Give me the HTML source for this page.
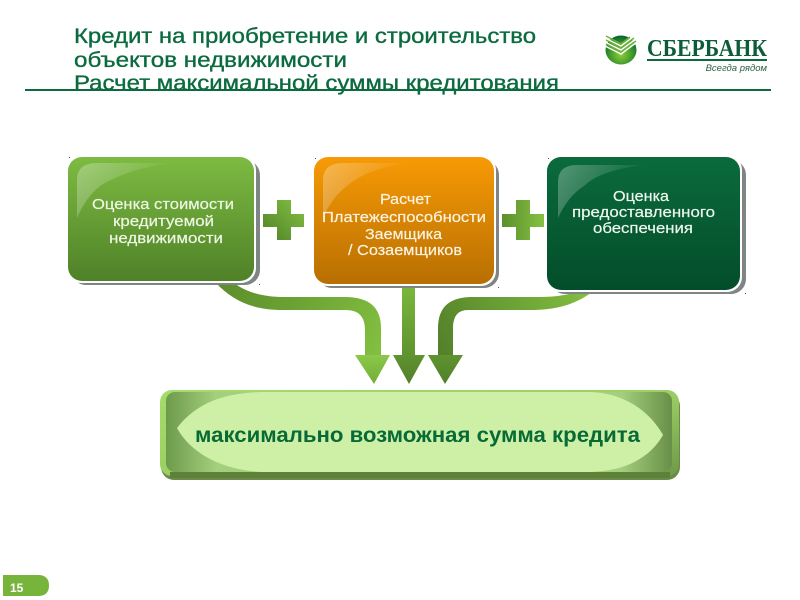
<!DOCTYPE html>
<html><head><meta charset="utf-8"><style>
html,body{margin:0;padding:0;background:#fff}
svg{display:block}
text{font-family:"Liberation Sans",sans-serif}
</style></head><body>
<svg width="800" height="600" viewBox="0 0 800 600" xmlns="http://www.w3.org/2000/svg">
<defs>
<linearGradient id="g1" x1="0" y1="0" x2="0" y2="1"><stop offset="0" stop-color="#7dbb42"/><stop offset="1" stop-color="#4f8128"/></linearGradient>
<linearGradient id="g2" x1="0" y1="0" x2="0" y2="1"><stop offset="0" stop-color="#f79a05"/><stop offset="1" stop-color="#b86f02"/></linearGradient>
<linearGradient id="g3" x1="0" y1="0" x2="0" y2="1"><stop offset="0" stop-color="#0b6b3c"/><stop offset="1" stop-color="#034d2a"/></linearGradient>
<linearGradient id="gl" x1="0" y1="0" x2="1" y2="0.3"><stop offset="0" stop-color="#fff" stop-opacity=".3"/><stop offset="1" stop-color="#fff" stop-opacity="0"/></linearGradient>
<linearGradient id="pl" x1="0" y1="1" x2="1" y2="0"><stop offset="0" stop-color="#4f8128"/><stop offset="1" stop-color="#85c143"/></linearGradient>
<linearGradient id="pl2" x1="0" y1="0" x2="1" y2="0"><stop offset="0" stop-color="#5c8f2c"/><stop offset="1" stop-color="#85c143"/></linearGradient>
<linearGradient id="a1" gradientUnits="userSpaceOnUse" x1="220" y1="290" x2="375" y2="360"><stop offset="0" stop-color="#5c8f2c"/><stop offset=".5" stop-color="#6ea535"/><stop offset="1" stop-color="#82bf40"/></linearGradient>
<linearGradient id="a2" gradientUnits="userSpaceOnUse" x1="0" y1="286" x2="0" y2="384"><stop offset="0" stop-color="#7ab83c"/><stop offset="1" stop-color="#54832a"/></linearGradient>
<linearGradient id="a3" gradientUnits="userSpaceOnUse" x1="590" y1="295" x2="445" y2="370"><stop offset="0" stop-color="#82bf40"/><stop offset="1" stop-color="#527f29"/></linearGradient>
<linearGradient id="ah" x1="0" y1="0" x2="0" y2="1"><stop offset="0" stop-color="#8cc84a"/><stop offset="1" stop-color="#73ad38"/></linearGradient>
<linearGradient id="ah2" x1="0" y1="0" x2="0" y2="1"><stop offset="0" stop-color="#5f9430"/><stop offset="1" stop-color="#527f29"/></linearGradient>
<linearGradient id="bo" x1="0" y1="0" x2="1" y2="1"><stop offset="0" stop-color="#a6dc6c"/><stop offset=".5" stop-color="#9ccf62"/><stop offset="1" stop-color="#6f9a48"/></linearGradient>
<linearGradient id="bb" x1="0" y1="0" x2="1" y2="0"><stop offset="0" stop-color="#6d9a4c"/><stop offset=".1" stop-color="#a4cf7c"/><stop offset=".9" stop-color="#a4cf7c"/><stop offset="1" stop-color="#688f48"/></linearGradient>
<radialGradient id="em" cx=".5" cy=".65" r=".6"><stop offset="0" stop-color="#8fd03a"/><stop offset=".6" stop-color="#3f9a2b"/><stop offset="1" stop-color="#0e6a2c"/></radialGradient>
</defs>

<!-- title -->
<g fill="#0b6b3f" font-size="21" stroke="#0b6b3f" stroke-width=".35">
<text x="74" y="43" textLength="462" lengthAdjust="spacingAndGlyphs">Кредит на приобретение и строительство</text>
<text x="74" y="67" textLength="273" lengthAdjust="spacingAndGlyphs">объектов недвижимости</text>
<text x="74" y="90" textLength="485" lengthAdjust="spacingAndGlyphs">Расчет максимальной суммы кредитования</text>
</g>
<rect x="25" y="89" width="746" height="2" fill="#0b6b3f"/>

<!-- logo -->
<ellipse cx="621" cy="50" rx="15.500" ry="14.500" fill="url(#em)"/>
<g fill="none" stroke="#fff" stroke-width="1.500"><path d="M605 38l16 8 12-9"/><path d="M605 42l16 8 15-11"/><path d="M605 46l16 8 16-12"/></g>
<g fill="none" stroke="#6db33a" stroke-width="1.500"><path d="M606 36l15 8 9-7"/><path d="M606 40l15 8 13-10"/><path d="M606 44l15 8 15-11"/></g>
<text x="647" y="56" font-weight="bold" font-size="24" fill="#0b5c37" textLength="120" lengthAdjust="spacingAndGlyphs" style="font-family:'Liberation Serif',serif">СБЕРБАНК</text>
<rect x="647" y="59" width="120" height="2" fill="#0b6b3f"/>
<text x="767" y="71" text-anchor="end" font-size="9.500" font-style="italic" fill="#2c5f45">Всегда рядом</text>

<!-- plus -->
<path d="M277 200h14v14h13v13h-13v13h-14v-13h-14v-13h14z" fill="url(#pl)"/>
<path d="M516 200h14v14h14v13h-14v13h-14v-13h-14v-13h14z" fill="url(#pl2)"/>

<!-- arrows -->
<path d="M216 283C232 300 252 310 282 310H346Q365 310 365 330V356H381V328Q381 297 345 297H285C262 297 246 292 234 283Z" fill="url(#a1)"/>
<path d="M355 355H390L374 384Z" fill="url(#ah)"/>
<rect x="402" y="286" width="13" height="70" fill="url(#a2)"/>
<path d="M393 355H425L409 384Z" fill="url(#ah2)"/>
<path d="M592 292C575 305 555 310 530 310H468Q453 310 453 328V356H438V328Q438 297 472 297H540C555 297 566 295 578 292Z" fill="url(#a3)"/>
<path d="M428 355H463L445 384Z" fill="url(#ah2)"/>

<!-- box 1 -->
<rect x="71" y="160" width="189" height="125" rx="15" fill="#7f8484"/>
<rect x="66" y="155" width="190" height="128" rx="15" fill="#fff"/>
<rect x="68" y="157" width="186" height="124" rx="14" fill="url(#g1)"/>
<path d="M77 200V180Q77 164 95 163H170Q125 170 100 186Q86 197 77 218Z" fill="url(#gl)"/>
<g fill="#eef6e4" font-size="15" stroke="#eef6e4" stroke-width=".2">
<text x="92" y="209" textLength="142" lengthAdjust="spacingAndGlyphs">Оценка стоимости</text>
<text x="113" y="226" textLength="101" lengthAdjust="spacingAndGlyphs">кредитуемой</text>
<text x="109" y="243" textLength="114" lengthAdjust="spacingAndGlyphs">недвижимости</text>
</g>

<!-- box 2 -->
<rect x="317" y="160" width="182" height="128" rx="15" fill="#7f8484"/>
<rect x="312" y="155" width="184" height="131" rx="15" fill="#fff"/>
<rect x="314" y="157" width="180" height="127" rx="14" fill="url(#g2)"/>
<path d="M323 200V180Q323 164 341 163H405Q365 170 347 186Q332 197 323 218Z" fill="url(#gl)"/>
<g fill="#fdf3e0" font-size="15" stroke="#fdf3e0" stroke-width=".2">
<text x="380" y="204" textLength="51" lengthAdjust="spacingAndGlyphs">Расчет</text>
<text x="322" y="222" textLength="164" lengthAdjust="spacingAndGlyphs">Платежеспособности</text>
<text x="365" y="239" textLength="77" lengthAdjust="spacingAndGlyphs">Заемщика</text>
<text x="348" y="255" textLength="114" lengthAdjust="spacingAndGlyphs">/ Созаемщиков</text>
</g>

<!-- box 3 -->
<rect x="550" y="160" width="196" height="134" rx="15" fill="#7f8484"/>
<rect x="545" y="155" width="197" height="137" rx="15" fill="#fff"/>
<rect x="547" y="157" width="193" height="133" rx="14" fill="url(#g3)"/>
<path d="M558 200V182Q558 166 575 165H645Q600 170 584 186Q568 196 558 218Z" fill="url(#gl)"/>
<g fill="#eef6ee" font-size="15" stroke="#eef6ee" stroke-width=".2">
<text x="613" y="201" textLength="56" lengthAdjust="spacingAndGlyphs">Оценка</text>
<text x="572" y="217" textLength="143" lengthAdjust="spacingAndGlyphs">предоставленного</text>
<text x="593" y="233" textLength="100" lengthAdjust="spacingAndGlyphs">обеспечения</text>
</g>

<!-- tiny corner dots -->
<g fill="#555"><rect x="69" y="157" width="1" height="1"/><rect x="259" y="284" width="1" height="1"/><rect x="315" y="158" width="1" height="1"/><rect x="498" y="287" width="1" height="1"/><rect x="548" y="158" width="1" height="1"/><rect x="745" y="293" width="1" height="1"/></g>

<!-- bottom box -->
<rect x="161" y="393" width="519" height="87" rx="13" fill="#6c8a4a"/>
<rect x="160" y="390" width="519" height="86" rx="12" fill="url(#bo)"/>
<rect x="166" y="392" width="506" height="80" rx="9" fill="url(#bb)"/>
<path d="M177 428C195 405 220 393 262 392H590C625 393 650 412 663 435C650 458 625 471 590 472H262C220 470 190 452 177 428Z" fill="#cdf0a6"/>
<rect x="170" y="472" width="500" height="6" fill="#5d8138"/>
<text x="195" y="442" font-size="21" font-weight="bold" fill="#086a36" textLength="445" lengthAdjust="spacingAndGlyphs">максимально возможная сумма кредита</text>

<!-- page number -->
<path d="M3 575H38Q49 575 49 585.500Q49 596 38 596H3Z" fill="#76b43c"/>
<text x="10" y="592" font-size="12" font-weight="bold" fill="#fff">15</text>
</svg>
</body></html>
